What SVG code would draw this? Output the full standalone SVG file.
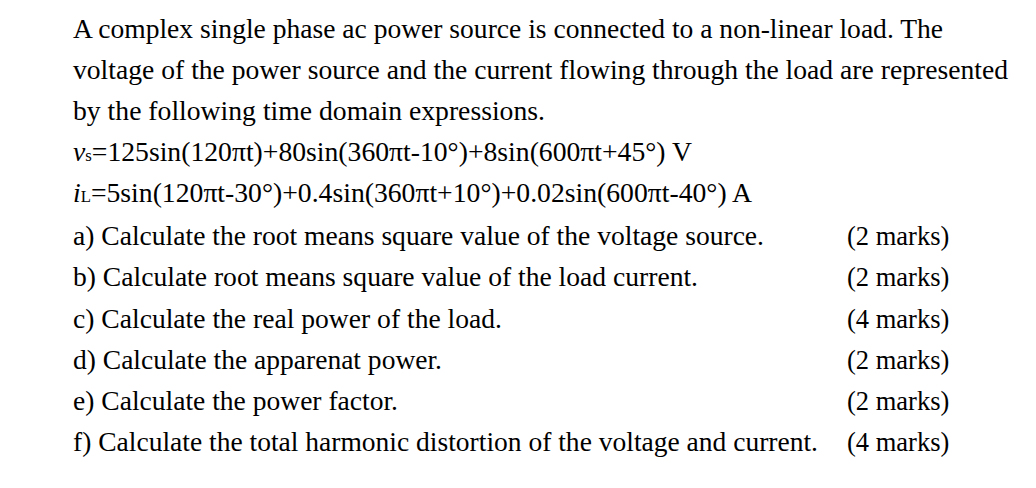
<svg xmlns="http://www.w3.org/2000/svg" width="1036" height="488" viewBox="0 0 1036 488">
<style>text{font-family:"Liberation Serif",serif;font-size:26.5px;fill:#000}.s{font-size:16px}</style>
<rect width="1036" height="488" fill="#fff"/>
<g id="text">
<text x="73" y="38" textLength="870" lengthAdjust="spacingAndGlyphs">A complex single phase ac power source is connected to a non-linear load. The</text>
<text x="73" y="79" textLength="935" lengthAdjust="spacingAndGlyphs">voltage of the power source and the current flowing through the load are represented</text>
<text x="73" y="120" textLength="472" lengthAdjust="spacingAndGlyphs">by the following time domain expressions.</text>
<text x="73" y="161" textLength="619" lengthAdjust="spacingAndGlyphs"><tspan font-style="italic">v</tspan><tspan class="s">s</tspan>=125sin(120πt)+80sin(360πt-10°)+8sin(600πt+45°) V</text>
<text x="73" y="202" textLength="679" lengthAdjust="spacingAndGlyphs"><tspan font-style="italic">i</tspan><tspan class="s">L</tspan>=5sin(120πt-30°)+0.4sin(360πt+10°)+0.02sin(600πt-40°) A</text>
<text x="73" y="245" textLength="691" lengthAdjust="spacingAndGlyphs">a) Calculate the root means square value of the voltage source.</text>
<text x="73" y="286" textLength="625" lengthAdjust="spacingAndGlyphs">b) Calculate root means square value of the load current.</text>
<text x="73" y="328" textLength="429" lengthAdjust="spacingAndGlyphs">c) Calculate the real power of the load.</text>
<text x="73" y="369" textLength="369" lengthAdjust="spacingAndGlyphs">d) Calculate the apparenat power.</text>
<text x="73" y="410" textLength="325" lengthAdjust="spacingAndGlyphs">e) Calculate the power factor.</text>
<text x="73" y="451" textLength="745" lengthAdjust="spacingAndGlyphs">f) Calculate the total harmonic distortion of the voltage and current.</text>
<text x="847" y="245">(2 marks)</text>
<text x="847" y="286">(2 marks)</text>
<text x="847" y="328">(4 marks)</text>
<text x="847" y="369">(2 marks)</text>
<text x="847" y="410">(2 marks)</text>
<text x="847" y="451">(4 marks)</text>
</g>
</svg>
